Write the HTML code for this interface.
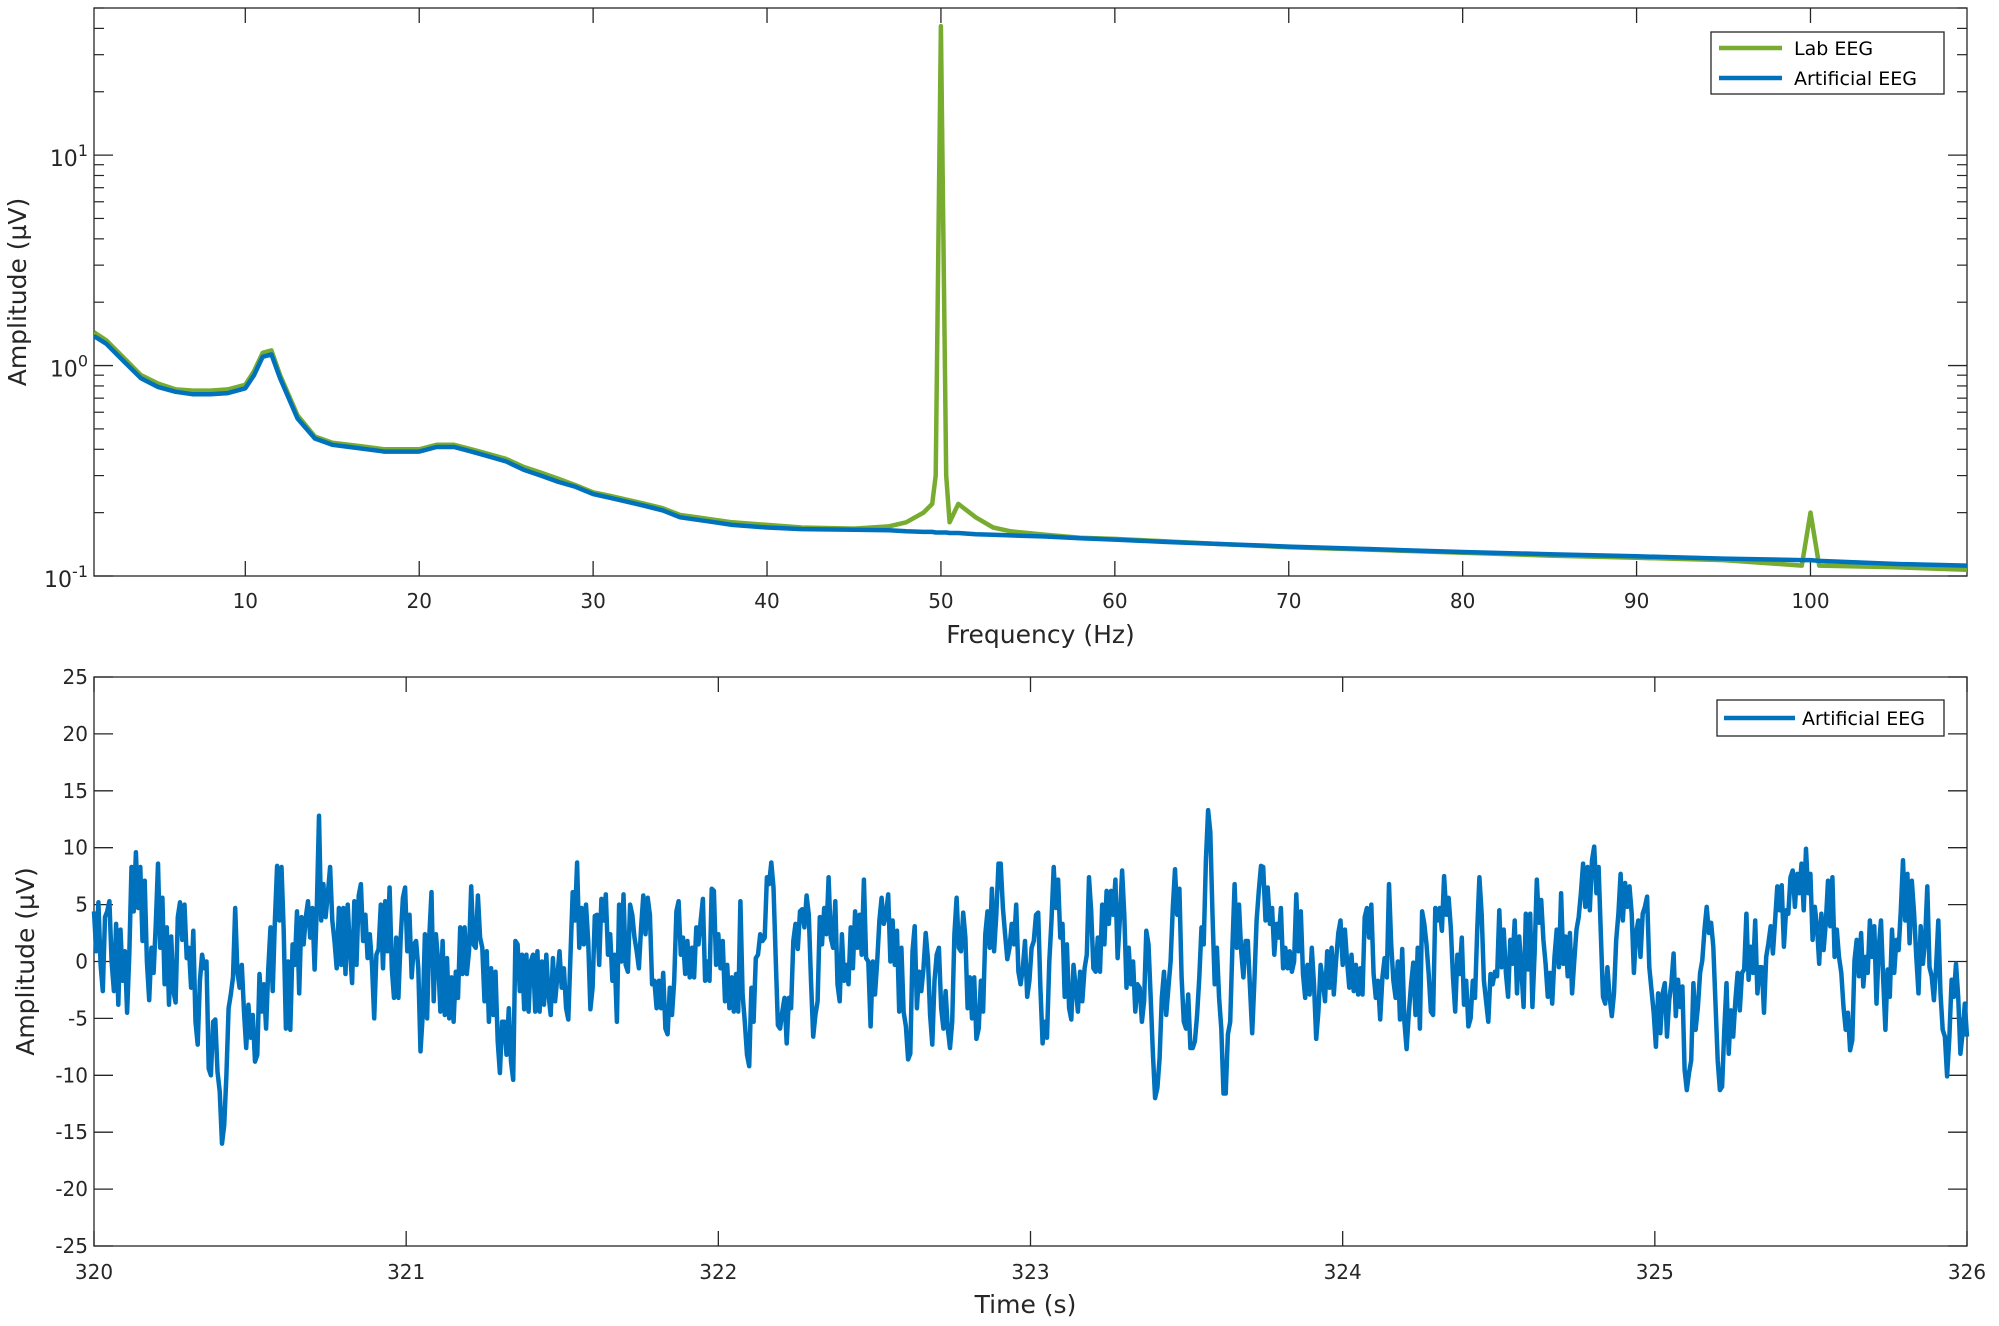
<!DOCTYPE html>
<html><head><meta charset="utf-8">
<style>
html,body{margin:0;padding:0;background:#fff;}
svg{display:block;font-family:"DejaVu Sans","Liberation Sans",sans-serif;}
</style></head>
<body>
<svg id="fig" width="1999" height="1326" viewBox="0 0 1999 1326" xmlns="http://www.w3.org/2000/svg">
<rect x="0" y="0" width="1999" height="1326" fill="#fff"/>
<g id="topChart"></g>
<g id="botChart"></g>
</svg>
<script>
// ---------- Spectrum data ----------
const freqs = [1.3,2,3,4,5,6,7,8,9,10,10.5,11,11.5,12,13,14,15,16,17,18,19,20,21,22,23,24,25,26,27,28,29,30,31,32,33,34,35,36,37,38,40,42,45,47,48,49,49.5,49.7,50,50.3,50.5,51,52,53,54,56,58,60,63,66,70,75,80,85,90,95,99.5,100,100.5,105,109];
const artificialAmp = [1.38,1.27,1.05,0.87,0.79,0.75,0.73,0.73,0.74,0.78,0.9,1.1,1.13,0.87,0.56,0.45,0.42,0.41,0.40,0.39,0.39,0.39,0.41,0.41,0.39,0.37,0.35,0.32,0.30,0.28,0.265,0.245,0.235,0.225,0.215,0.205,0.19,0.185,0.18,0.175,0.17,0.167,0.166,0.165,0.163,0.162,0.162,0.161,0.161,0.161,0.16,0.16,0.158,0.157,0.156,0.154,0.151,0.149,0.145,0.142,0.138,0.134,0.13,0.127,0.124,0.121,0.119,0.119,0.118,0.114,0.112];
const labAmp = [1.44,1.32,1.09,0.9,0.82,0.77,0.76,0.76,0.77,0.81,0.94,1.15,1.18,0.9,0.58,0.46,0.43,0.42,0.41,0.40,0.40,0.40,0.42,0.42,0.40,0.38,0.36,0.33,0.31,0.29,0.27,0.25,0.24,0.23,0.22,0.21,0.195,0.19,0.185,0.18,0.175,0.17,0.168,0.172,0.18,0.2,0.22,0.3,41,0.3,0.18,0.22,0.19,0.17,0.163,0.157,0.152,0.15,0.146,0.142,0.137,0.133,0.129,0.125,0.122,0.119,0.112,0.2,0.112,0.11,0.107];
const freqTicks = [10,20,30,40,50,60,70,80,90,100];
const ampDecades = [-1,0,1];

// ---------- Time-series data (µV, uniformly sampled 320–326 s) ----------
const eegSeg1 = [4.4,0.9,5.2,-0.3,-2.6,3.9,4.4,5.3,0,-2.6,3.3,-3.8,2.8,-1.7,0.9,-4.5,0.6,8.3,4.4,9.6,4.7,8.3,1.8,7.1,0,-3.4,1.2,-1,3.3,8.6,1.2,5.6,-2,3,-3.8,2.2,-2.6,-3.6,3.9,5.2,1.9,5,0.3,1.2,-2.3,2.7,-5.3,-7.3,-1.7,0.6,-0.6,0,-9.4,-10,-5.3,-5.1,-9.7,-11.4,-16,-14.4,-10,-4.1,-2.9,-1.4,4.7,-0.9,-2.3,-0.3,-4.4,-7.6,-3.8,-6.7,-4.7,-8.8,-8.2,-1.1,-4.4,-2,-5.9,-0.6,3,-2.6,3.6,8.4,3.6,8.3,2.7,-5.9,0,-6,1.5,-0.3,4.4,-2.8,3.9,1.5,3.9,5.3,2.1,4.7,-0.7,4.7,12.8,3.6,6.8,3.9,5.9,8.3,3.6,1.8,-0.6,4.7,-0.3,4.7,-1.1,5,1.1,-1.9,5.3,-0.3,5.8,6.8,1.8,4.1,0.3,2.4,-0.3,-5,0.6,1.1,5,-0.6,5.3,0.9,6.5,-0.6,-3.2,2.1,-3.2,2.1,5.6,6.5,0.9,4.1,-1.4,1.5,1.8,-0.6,-7.9,-4.7,2.4,-5,2.2,6.1,-3.5,2.4,0,-4.4,1.8,-4.7,0.3,-5,-1.4,-5.3,-0.9,-3.2,3,-1.1,3,-1.1,0.9,6.6,1.5,1.2,5.8,2.1,1.2,-3.5,0.9,-5.3,-0.6,-4.7,-0.9,-7,-9.8,-5.3,-5.3,-8.2,-4.1,-8.8,-10.4,1.8,1.5,-2.6,0.6,-4.2,0.6,-4.4,0];
const eegSeg2 = [0.6,-4.4,0.9,-4.4,0,-3.8,0.6,-2.9,-4.7,0.3,-3.5,-1.4,0.9,-2.3,-0.6,-4.1,-5.1,0.6,6.1,3.6,8.7,1.2,4.7,1.5,5,1.8,-4.2,-2.3,4,4.1,-0.3,5.5,3.6,5.9,0.6,2.4,-1.7,0.6,-5.3,5,0,5.9,-0.3,-0.9,5,4.1,2.1,0.9,-0.6,3,5.8,2.4,5.6,4.1,-2,-1.7,-4.1,-1.7,-4.1,-1,-5.9,-6.4,-2.3,-4.7,-1.7,4.4,5.3,0.6,2.1,-1.1,1.8,-1.4,1.2,-1.4,3,1.5,3.6,5.5,-1.7,0,-1.7,6.4,6.2,-0.3,2.4,-0.6,1.8,-3.5,-0.3,-4.1,-1.4,-4.4,-1.1,-4.4,5.3,-2.9,-5.3,-8.2,-9.2,-2.3,-5.3,0.3,0.6,2.4,1.8,2.1,7.4,6.8,8.7,6.5,0.3,-5.6,-5.9,-4.4,-3.2,-7.2,-3.2,-4.1,1.8,3.3,1.1,4.4,4.6,3,5.8,4.1,-1.7,-6.6,-4.7,-3.5,3.9,1.5,4.7,2.4,7.4,2.1,1.2,5.3,-2,-3.5,2.4,-1.7,-0.3,-2,3,-0.6,4.4,1.2,4.1,0.6,7.2,0.3,0,-5.7,0,-2.9,0,3.6,5.6,3.3,4.1,5.9,0,3.6,-0.3,2.7,-4.4,1.2,-4.4,-5.7,-8.6,-8.1,0.9,3.1,-4.1,-0.9,-2.6,-0.6,2.5,0.3,-4.7,-7.3,-1.7,0.6,1.2,-4.1,-5.9,-2.6,-5.9,-7.6,-5.3,2.4,5.6,1.2,0.9,4.3,2.1,-4.1,-1.4,-5,-1.4,-6.8,-5.9,-1.7,-4.4,2.4,4.4,1.2,6.4,0.9,4.1,8.6];
const eegSeg3 = [8.6,4.7,2.4,0.2,1.2,3.3,1.5,5,-0.9,-2,-0.6,1.8,-3.1,-1.7,1.2,1.8,4.1,4.3,-2.3,-7.2,-5.3,-6.7,0,3.6,8.3,4.7,7.2,2.1,3.3,-3.1,1.5,-4.1,-5.1,-0.3,-2.3,-4.4,-0.9,-3.5,-0.6,0.6,7.4,4.4,-0.6,-0.9,2.1,-0.9,5,1.5,6.2,3.3,6.2,4.1,7.2,0.3,3.6,8,4.1,-2.3,1.2,-2,0,-4.4,-2,-2.3,-5.3,-3.5,2.7,1.5,-3.2,-8.1,-12,-11.1,-8.5,-3.2,-0.9,-4.7,-2.3,0,4.7,8.1,4.1,6.4,-1.4,-5.3,-5.9,-2.9,-7.6,-7.6,-7,-4.7,-1.4,3,1.5,8.9,13.3,11.4,4.1,-2,1.2,-3.2,-5.9,-11.6,-11.6,-6.4,-5.3,1.2,6.8,1.2,5,0.9,-1.4,1.8,1.8,-2.3,-6.3,-1.7,3.6,6.2,8.4,8.3,3.6,6.5,3.3,4.7,0.6,3.3,2.1,4.7,-0.6,1.2,-0.6,0.9,-0.9,0,5.9,0.9,4.4,-1.1,-3.2,-0.3,-2.9,1.2,-2,-6.8,-4.4,-0.3,-1.7,-3.5,0.9,-2.3,1.2,-2.9,0,2.5,3.6,-0.3,2.8,0,-2.3,0.6,-2.6,-0.3,-2.9,-0.6,-2.9,3.9,4.7,2.1,5,-1.1,-3.2,-1.7,-5.1,-1.4,0.3,-1.4,6.8,1.5,-1.7,-3.2,0,-5.1,1.1,-5.3,-7.7,-4.4,-2,-0.1,-4.7,1.2,-5.9,4.4,3.3,1.5,-1.1,-4.4,-4.7,4.7,3.6,4.7,2.7,7.5,4.1,5.6,3,-1.4,-4.4,0.6,-1.1,2.1,-3.8,-1.7,-5.7,-5,-1.7,-3.2,2.7,7.4,4.1,-1.7,-3.5,-5.3,-1.1,-2,-0.9];
const eegSeg4 = [-1.3,4.5,-0.5,2.8,-1,-3.1,1.9,-0.2,3.6,-2.8,2.2,-0.7,-4,4.2,-0.7,4.2,-4,0.7,7.2,3.4,5.4,1.9,-0.2,-3.1,-1,-3.7,0.4,2.8,-0.5,6,-0.2,2.2,-1.3,2.5,-2.8,0.1,2.8,3.9,6,8.6,4.8,8.3,4.5,8.9,10.1,6,8.3,2.5,-3.1,-3.7,-0.5,-3.1,-4.8,-2.8,1.9,4.2,7.7,3.6,6.9,4.8,6.6,4.2,-1,2.5,3.6,0.4,4.2,4.8,5.7,-0.5,-2.5,-4.5,-7.5,-2.8,-6.3,-2.8,-1.9,-6.6,-3.4,-1.9,0.7,-4.8,-1.6,-4,-2.2,-9.5,-11.3,-9.8,-8.7,-1.9,-6,-4,-1,0.1,2.8,4.8,2.5,3.4,1.3,-3.7,-8.7,-11.3,-11,-6,-1.9,-8.1,-4.3,-6.6,-3.4,-1,-4.3,-1,-0.7,4.2,-1.6,1.3,-1,3.6,-2.8,-0.5,-0.5,-4.5,0.4,1.6,3.1,0.7,3.6,6.6,4.5,6.7,1.3,4.5,4.2,7.4,8,4.8,7.7,6,8.6,4.5,9.9,6,7.7,1.9,4.8,3.1,-0.2,4.2,1,3.4,7.1,3.1,7.4,0.4,2.8,0.4,-1,-4,-6,-4.5,-7.8,-6.9,0.1,1.9,-1.3,2.5,-2.2,0.4,-1,3.6,0.4,3.1,-3.7,1.3,3.6,-1.6,-6,-0.7,-3.1,2.8,-1,1.9,1,4.5,8.9,3.6,7.7,1.6,7.1,4.2,0.4,-2.8,3.1,-0.2,1.9,6.6,-0.5,-1.3,-3.4,-0.5,3.6,-2.8,-6,-6.6,-10.1,-6.6,-1.6,-3.1,-0.2,-3.1,-8.1,-6.3,-3.7,-6.6];
const eegValues = eegSeg1.concat(eegSeg2, eegSeg3, eegSeg4);
const timeTicks = [320,321,322,323,324,325,326];
const voltTicks = [25,20,15,10,5,0,-5,-10,-15,-20,-25];

const NS = "http://www.w3.org/2000/svg";
const AX = "#262626";
function mk(tag, attrs, parent, txt){
  const e = document.createElementNS(NS, tag);
  for (const k in attrs) e.setAttribute(k, attrs[k]);
  if (txt !== undefined) e.textContent = txt;
  parent.appendChild(e);
  return e;
}

// ---------- Top chart ----------
const topG = document.getElementById('topChart');
const T = {l:94, r:1967, t:8, b:576, fmin:1.3, fmax:109, lmin:-1, lmax:Math.log10(50)};
const fx = f => T.l + (f - T.fmin)/(T.fmax - T.fmin)*(T.r - T.l);
const ay = v => T.b - (Math.log10(v) - T.lmin)/(T.lmax - T.lmin)*(T.b - T.t);

const tbox = mk('rect', {x:T.l, y:T.t, width:T.r-T.l, height:T.b-T.t, fill:'none', stroke:AX, 'stroke-width':1.3}, topG);



freqTicks.forEach(f => {
  const x = fx(f);
  mk('line', {x1:x, y1:T.b, x2:x, y2:T.b-15, stroke:AX, 'stroke-width':1.3}, topG);
  mk('line', {x1:x, y1:T.t, x2:x, y2:T.t+15, stroke:AX, 'stroke-width':1.3}, topG);
  const t = mk('text', {x:x, y:608, 'text-anchor':'middle', 'font-size':20, fill:AX}, topG, String(f));
  
  
});
ampDecades.forEach(d => {
  const y = ay(Math.pow(10, d));
  mk('line', {x1:T.l, y1:y, x2:T.l+19, y2:y, stroke:AX, 'stroke-width':1.3}, topG);
  mk('line', {x1:T.r, y1:y, x2:T.r-19, y2:y, stroke:AX, 'stroke-width':1.3}, topG);
  const t = mk('text', {x:T.l-6, y:y+11, 'text-anchor':'end', 'font-size':22, fill:AX}, topG);
  
  
  mk('tspan', {}, t, '10');
  mk('tspan', {dy:-10, 'font-size':16}, t, String(d));
  for (let m = 2; m <= 9; m++) {
    const v = Math.pow(10, d) * m;
    if (Math.log10(v) > T.lmax) break;
    const ym = ay(v);
    mk('line', {x1:T.l, y1:ym, x2:T.l+10, y2:ym, stroke:AX, 'stroke-width':1.2}, topG);
    mk('line', {x1:T.r, y1:ym, x2:T.r-10, y2:ym, stroke:AX, 'stroke-width':1.2}, topG);
  }
});
const xl = mk('text', {x:(T.l+T.r)/2+10, y:643, 'text-anchor':'middle', 'font-size':25, fill:AX}, topG, 'Frequency (Hz)');


const yl = mk('text', {x:0, y:0, transform:`translate(26,${(T.t+T.b)/2}) rotate(-90)`, 'text-anchor':'middle', 'font-size':25, fill:AX}, topG, 'Amplitude (µV)');



function specPath(vals){
  return freqs.map((f,i) => (i?'L':'M') + fx(f).toFixed(1) + ',' + ay(vals[i]).toFixed(1)).join(' ');
}
const clipT = mk('clipPath', {id:'clipTop'}, topG);
mk('rect', {x:T.l, y:T.t, width:T.r-T.l, height:T.b-T.t}, clipT);
const lab = mk('path', {d:specPath(labAmp), fill:'none', stroke:'#77AC30', 'stroke-width':4.5, 'stroke-linejoin':'round', 'clip-path':'url(#clipTop)'}, topG);


const art = mk('path', {d:specPath(artificialAmp), fill:'none', stroke:'#0072BD', 'stroke-width':4.5, 'stroke-linejoin':'round', 'clip-path':'url(#clipTop)'}, topG);



const leg1 = mk('g', {}, topG);


mk('rect', {x:1711, y:32, width:233, height:62, fill:'#fff', stroke:AX, 'stroke-width':1.3}, leg1);
mk('line', {x1:1719, y1:48, x2:1782, y2:48, stroke:'#77AC30', 'stroke-width':4.5}, leg1);
mk('line', {x1:1719, y1:78, x2:1782, y2:78, stroke:'#0072BD', 'stroke-width':4.5}, leg1);
const le1 = mk('text', {x:1794, y:55, 'font-size':19, fill:'#000'}, leg1, 'Lab EEG');


const le2 = mk('text', {x:1794, y:85, 'font-size':19, fill:'#000'}, leg1, 'Artificial EEG');



// ---------- Bottom chart ----------
const botG = document.getElementById('botChart');
const B = {l:94, r:1967, t:677, b:1246, tmin:320, tmax:326, vmin:-25, vmax:25};
const tx = t => B.l + (t - B.tmin)/(B.tmax - B.tmin)*(B.r - B.l);
const vy = v => B.b - (v - B.vmin)/(B.vmax - B.vmin)*(B.b - B.t);

const bbox = mk('rect', {x:B.l, y:B.t, width:B.r-B.l, height:B.b-B.t, fill:'none', stroke:AX, 'stroke-width':1.3}, botG);


timeTicks.forEach(t => {
  const x = tx(t);
  mk('line', {x1:x, y1:B.b, x2:x, y2:B.b-15, stroke:AX, 'stroke-width':1.3}, botG);
  mk('line', {x1:x, y1:B.t, x2:x, y2:B.t+15, stroke:AX, 'stroke-width':1.3}, botG);
  const e = mk('text', {x:x, y:1279, 'text-anchor':'middle', 'font-size':20, fill:AX}, botG, String(t));
  
  
});
voltTicks.forEach(v => {
  const y = vy(v);
  mk('line', {x1:B.l, y1:y, x2:B.l+19, y2:y, stroke:AX, 'stroke-width':1.3}, botG);
  mk('line', {x1:B.r, y1:y, x2:B.r-19, y2:y, stroke:AX, 'stroke-width':1.3}, botG);
  const e = mk('text', {x:B.l-6, y:y+7, 'text-anchor':'end', 'font-size':20, fill:AX}, botG, String(v));
  
  
});
const bx = mk('text', {x:(B.l+B.r)/2-5, y:1313, 'text-anchor':'middle', 'font-size':25, fill:AX}, botG, 'Time (s)');


const by = mk('text', {x:0, y:0, transform:`translate(34,${(B.t+B.b)/2}) rotate(-90)`, 'text-anchor':'middle', 'font-size':25, fill:AX}, botG, 'Amplitude (µV)');



const N = eegValues.length;
const eegD = eegValues.map((v,i) => {
  const t = B.tmin + i/(N-1)*(B.tmax - B.tmin);
  return (i?'L':'M') + tx(t).toFixed(1) + ',' + vy(v).toFixed(1);
}).join(' ');
const eeg = mk('path', {d:eegD, fill:'none', stroke:'#0072BD', 'stroke-width':4.5, 'stroke-linejoin':'round'}, botG);



const leg2 = mk('g', {}, botG);


mk('rect', {x:1717, y:700, width:227, height:36, fill:'#fff', stroke:AX, 'stroke-width':1.3}, leg2);
mk('line', {x1:1724, y1:718, x2:1795, y2:718, stroke:'#0072BD', 'stroke-width':4.5}, leg2);
const le3 = mk('text', {x:1802, y:725, 'font-size':19, fill:'#000'}, leg2, 'Artificial EEG');


</script>
</body></html>
